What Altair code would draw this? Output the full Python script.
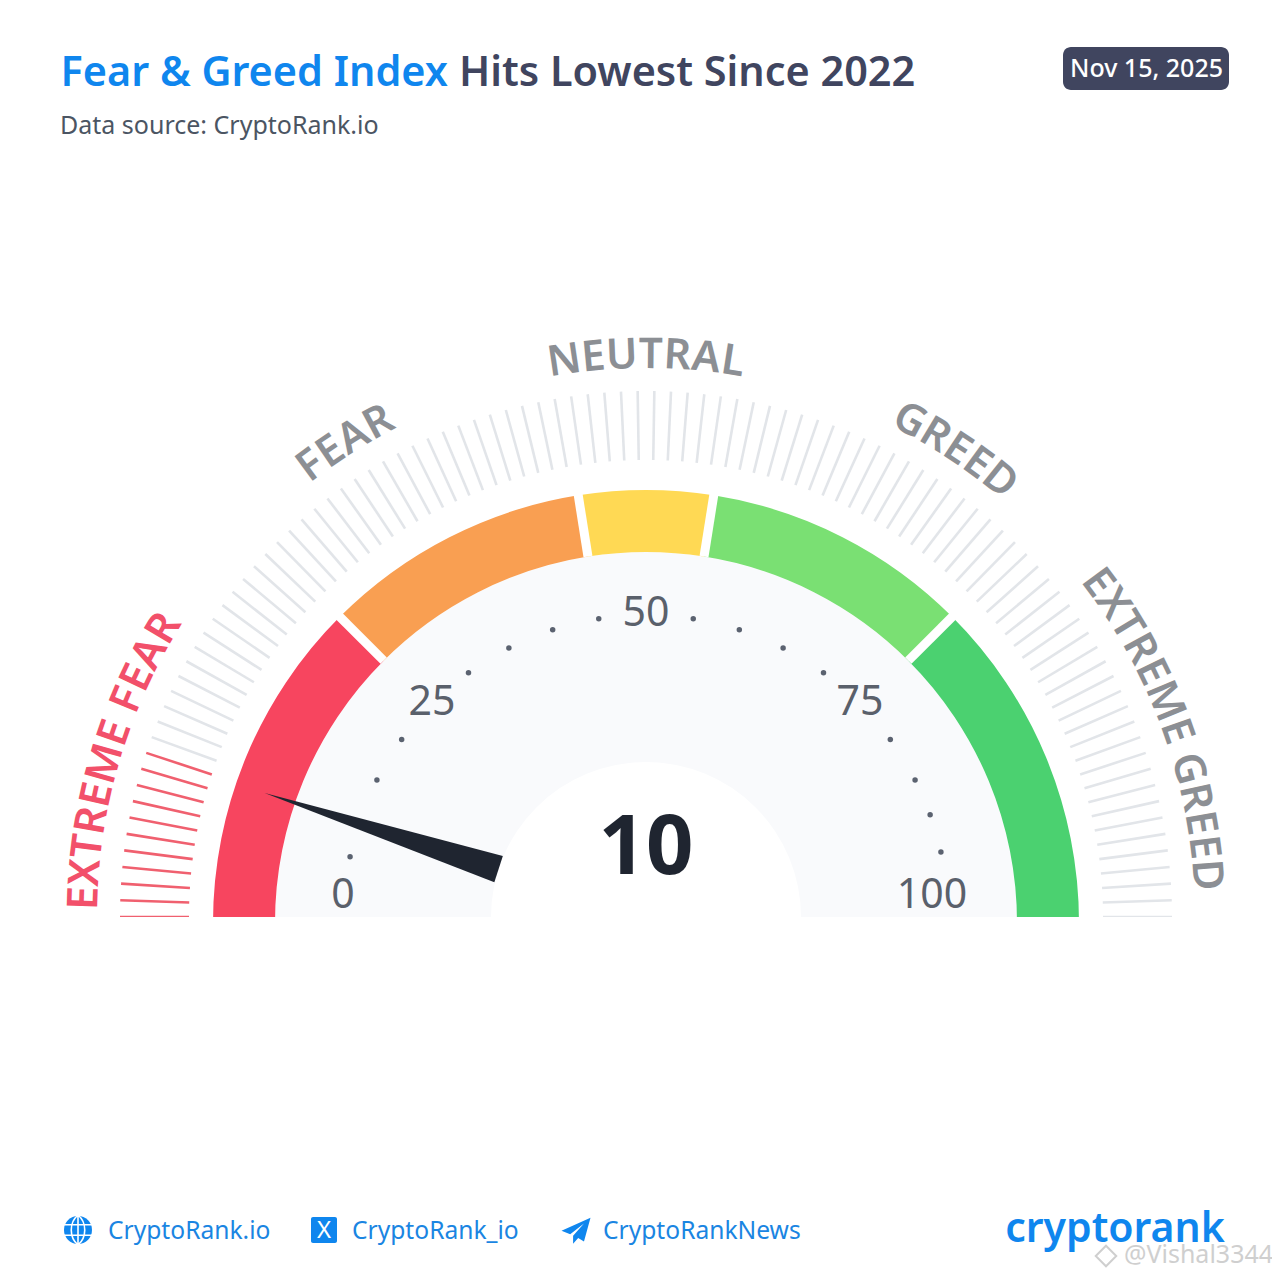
import math
import altair as alt
import pandas as pd

FONT = "Noto Sans"
BLUE = "#0f86ee"
SLATE = "#40455f"

# gauge geometry (image pixels)
CX, CY = 646, 917
BAND_CY = 923
R_BG_IN, R_BAND_IN, R_BAND_OUT = 155, 371, 433
R_TICK_IN, R_TICK_OUT = 457, 526
R_DOT, R_LABEL = 302, 549

index_value = 10
tick_count = 100
red_ticks = 11
band_starts = [0, 25, 45, 55, 75]
band_ends = [25, 45, 55, 75, 100]
band_colors = ["#f7455f", "#f99f52", "#ffd954", "#7ae073", "#4bd170"]
dot_values = [6.4, 10, 15, 20, 30, 35, 40, 45, 55, 60, 65, 70, 80, 85, 89, 93.1]
tick_labels = ["0", "25", "50", "75", "100"]
tick_label_at = [2.2, 25, 50, 75, 97.67]
tick_label_r = [303.7, 302.6, 303, 302.6, 286.8]
zone_names = ["EXTREME FEAR", "FEAR", "NEUTRAL", "GREED", "EXTREME GREED"]
zone_centers = [-73.5, -32.4, 0, 33.5, 69.8]
zone_colors = ["#f2506a", "#8c8f94", "#8c8f94", "#8c8f94", "#8c8f94"]
advance = dict(E=.56, X=.62, T=.58, R=.64, M=.92, F=.55, A=.69, N=.79, U=.75, L=.55, G=.72, D=.73)
advance[" "] = .26
ZONE_SIZE = 42.5

xs = alt.Scale(domain=[8, 1272], range=[0, 1264])
ys = alt.Scale(domain=[8, 1272], range=[0, 1264])


def deg(v):
    return v * 1.8 - 90


def polar(v, r, cy=CY):
    a = math.radians(deg(v))
    return CX + r * math.sin(a), cy - r * math.cos(a)


def X(f="x"):
    return alt.X(f"{f}:Q", scale=xs, axis=None)


def Y(f="y"):
    return alt.Y(f"{f}:Q", scale=ys, axis=None)


def arc(rows):
    return alt.Chart(pd.DataFrame(rows)).mark_arc(opacity=1).encode(
        x=X("cx"), y=Y("cy"),
        theta=alt.Theta("t:Q", scale=None, stack=None),
        theta2=alt.Theta2("t2:Q"),
        radius=alt.Radius("r:Q", scale=None),
        radius2=alt.Radius2("r2:Q"),
        fill=alt.Fill("c:N", scale=None),
    )


def text(rows, **kw):
    enc = dict(x=X(), y=Y(), text="s:N")
    if "a" in rows[0]:
        enc["angle"] = alt.Angle("a:Q", scale=None)
    return alt.Chart(pd.DataFrame(rows)).mark_text(font=FONT, **kw).encode(**enc)


def T(s, x, y):
    return [dict(s=s, x=x, y=y)]


layers = []

# background + bands
layers.append(arc([dict(cx=CX, cy=BAND_CY, t=math.radians(deg(0)), t2=math.radians(deg(100)),
                        r=R_BAND_IN, r2=0, c="#f9fafc")]))
layers.append(arc([dict(cx=CX, cy=BAND_CY, t=math.radians(deg(a)), t2=math.radians(deg(b)),
                        r=R_BAND_OUT, r2=R_BAND_IN, c=c)
                   for a, b, c in zip(band_starts, band_ends, band_colors)]))
# gaps between bands
gap_rows = []
for v in band_starts[1:]:
    x0, y0 = polar(v, R_BAND_IN, BAND_CY)
    x1, y1 = polar(v, R_BAND_OUT + 4, BAND_CY)
    gap_rows.append(dict(x=x0, y=y0, x2=x1, y2=y1))
layers.append(alt.Chart(pd.DataFrame(gap_rows)).mark_rule(color="white", strokeWidth=9).encode(
    x=X(), y=Y(), x2="x2:Q", y2="y2:Q"))
# white hub
layers.append(arc([dict(cx=CX, cy=CY, t=math.radians(deg(0)), t2=math.radians(deg(100)),
                        r=R_BG_IN, r2=0, c="white")]))

# outer ticks
tick_rows = []
for i in range(tick_count):
    v = i * 100 / (tick_count - 1)
    x0, y0 = polar(v, R_TICK_IN)
    x1, y1 = polar(v, R_TICK_OUT)
    tick_rows.append(dict(x=x0, y=y0, x2=x1, y2=y1,
                          c="#f0606f" if i < red_ticks else "#e2e5e9"))
layers.append(alt.Chart(pd.DataFrame(tick_rows)).mark_rule(strokeWidth=2.6).encode(
    x=X(), y=Y(), x2="x2:Q", y2="y2:Q", color=alt.Color("c:N", scale=None)))

# flat lower edge of the gauge
layers.append(alt.Chart(pd.DataFrame([dict(x=100, x2=1190, y=917, y2=935)])).mark_rect(
    color="white", opacity=1).encode(x=X(), x2="x2:Q", y=Y(), y2="y2:Q"))

# dots
dot_rows = [dict(x=polar(v, R_DOT)[0], y=polar(v, R_DOT)[1]) for v in dot_values]
layers.append(alt.Chart(pd.DataFrame(dot_rows)).mark_circle(size=30, color="#5b6270", opacity=1).encode(
    x=X(), y=Y()))

# scale numbers
num_rows = []
for s, v, r in zip(tick_labels, tick_label_at, tick_label_r):
    px, py = polar(v, r)
    num_rows.append(dict(s=s, x=px, y=py))
layers.append(text(num_rows, fontSize=41, color="#5a606b", align="center", baseline="middle"))

# curved zone names, one letter at a time
for name, centre, col in zip(zone_names, zone_centers, zone_colors):
    total = sum(advance[ch] for ch in name) * ZONE_SIZE
    pos = -total / 2
    rows = []
    for ch in name:
        w = advance[ch] * ZONE_SIZE
        ang = centre + math.degrees((pos + w / 2) / R_LABEL)
        rad = math.radians(ang)
        pos += w
        if ch == " ":
            continue
        rows.append(dict(s=ch, x=CX + R_LABEL * math.sin(rad), y=CY - R_LABEL * math.cos(rad),
                         a=ang % 360))
    layers.append(text(rows, fontSize=ZONE_SIZE, fontWeight=600, color=col,
                       align="center", baseline="alphabetic"))

# needle
na = math.radians(deg(index_value))
needle_r = (155 + 401) / 2
layers.append(alt.Chart(pd.DataFrame([dict(
    x=CX + needle_r * math.sin(na), y=CY - needle_r * math.cos(na), a=index_value * 1.8)])).mark_point(
    shape="M-1,0 L1,-0.112 L1,0.112 Z", filled=True, size=246 ** 2, color="#1f2530", opacity=1).encode(
    x=X(), y=Y(), angle=alt.Angle("a:Q", scale=None)))

# centre value
layers.append(text(T(str(index_value), 646, 849), fontSize=83, fontWeight=700, color="#1f2530",
                   align="center", baseline="middle"))

# header
layers.append(text(T("Fear & Greed Index", 60.5, 86), fontSize=41.4, fontWeight=600, color=BLUE,
                   align="left", baseline="alphabetic"))
layers.append(text(T("Hits Lowest Since 2022", 459, 86), fontSize=41.4, fontWeight=600, color=SLATE,
                   align="left", baseline="alphabetic"))
layers.append(text(T("Data source: CryptoRank.io", 60, 134), fontSize=25, color="#4b5563",
                   align="left", baseline="alphabetic"))
layers.append(alt.Chart(pd.DataFrame([dict(x=1063, x2=1229, y=47, y2=90)])).mark_rect(
    color=SLATE, cornerRadius=8, opacity=1).encode(x=X(), x2="x2:Q", y=Y(), y2="y2:Q"))
layers.append(text(T("Nov 15, 2025", 1146.5, 69), fontSize=25, fontWeight=500, color="white",
                   align="center", baseline="middle"))

# footer
for s, x in [("CryptoRank.io", 108), ("CryptoRank_io", 352), ("CryptoRankNews", 603)]:
    layers.append(text(T(s, x, 1232), fontSize=24.6, color="#1a85e2", align="left", baseline="middle"))
# globe icon
layers.append(alt.Chart(pd.DataFrame([dict(x=78, y=1230)])).mark_circle(size=28 ** 2, color=BLUE, opacity=1).encode(
    x=X(), y=Y()))
layers.append(alt.Chart(pd.DataFrame([dict(x=78, y=1230)])).mark_point(
    shape="M0,-1 C-0.6,-0.5 -0.6,0.5 0,1 C0.6,0.5 0.6,-0.5 0,-1 M-1,-0.35 L1,-0.35 M-1,0.35 L1,0.35 M0,-1 L0,1",
    filled=False, size=30 ** 2, color="white", strokeWidth=1.6, opacity=1).encode(x=X(), y=Y()))
# X icon
layers.append(alt.Chart(pd.DataFrame([dict(x=311, x2=337, y=1217, y2=1243)])).mark_rect(
    color=BLUE, cornerRadius=2, opacity=1).encode(x=X(), x2="x2:Q", y=Y(), y2="y2:Q"))
layers.append(text(T("X", 324, 1231), fontSize=24, color="white", align="center", baseline="middle"))
# paper plane icon
layers.append(alt.Chart(pd.DataFrame([dict(x=576, y=1230)])).mark_point(
    shape="M1,-0.85 L-1,0.05 L-0.4,0.3 L0.55,-0.45 L-0.2,0.4 L-0.2,0.95 L0.15,0.55 L0.55,0.8 Z",
    filled=True, size=29 ** 2, color=BLUE, opacity=1).encode(x=X(), y=Y()))
# logo
layers.append(text(T("cryptorank", 1115, 1242), fontSize=41, fontWeight=600, color=BLUE,
                   align="center", baseline="alphabetic"))
# watermark
layers.append(alt.Chart(pd.DataFrame([dict(x=1106, y=1256)])).mark_point(
    shape="diamond", filled=False, size=420, color="#cfcfcf", strokeWidth=2, opacity=1).encode(x=X(), y=Y()))
layers.append(text(T("@Vishal3344", 1124, 1255), fontSize=25, color="#cfcfcf",
                   align="left", baseline="middle"))

chart = alt.layer(*layers).properties(
    width=1264, height=1264, padding=0, background="white",
    autosize=alt.AutoSizeParams(type="none"),
).configure_view(stroke=None)

chart.save("out.html", embed_options={"renderer": "svg", "actions": False})
